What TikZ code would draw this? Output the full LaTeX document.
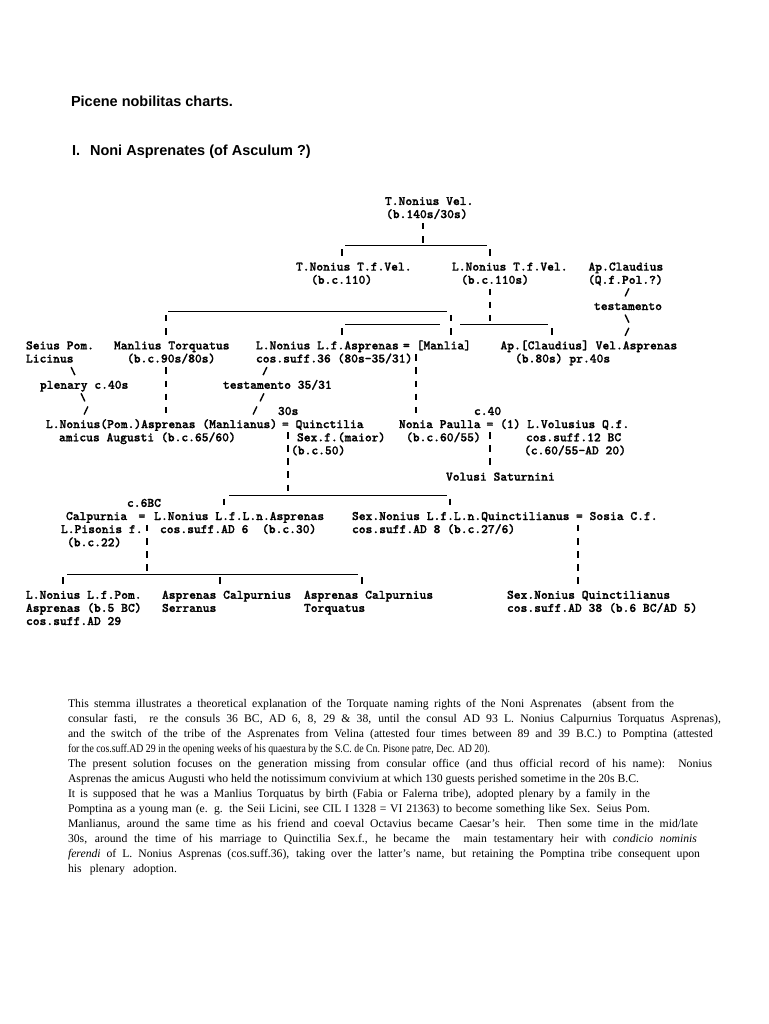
\documentclass[tikz,border=0pt]{standalone}
\usepackage{fontspec}
\usepackage{graphicx}
\setmainfont{Liberation Serif}
\newfontfamily\hsans{Liberation Sans}
\newfontfamily\monob{lmmonolt10-bold}[Extension=.otf, FakeBold=1.2]
\newsavebox\plinebox
\newcommand\fitline[2]{\sbox\plinebox{#2}\ifdim\wd\plinebox>#1\relax\resizebox{#1}{\height}{\usebox\plinebox}\else\makebox[#1][s]{#2}\fi}
\tikzset{
  mono/.style={font=\monob\fontsize{12.95}{13.125}\selectfont, anchor=base west, inner sep=0pt, outer sep=0pt},
  para/.style={font=\fontsize{11.7}{15}\selectfont, anchor=base west, inner sep=0pt, outer sep=0pt},
  head/.style={font=\hsans\bfseries\fontsize{14.5}{17}\selectfont, anchor=base west, inner sep=0pt, outer sep=0pt},
  vbar/.style={line width=1.6pt, dash pattern=on 6.5pt off 6.625pt},
  hbar/.style={line width=0.9pt},
  slashln/.style={line width=1.4pt},
}
\begin{document}
\begin{tikzpicture}[x=1pt,y=-1pt]
\fill[white] (0,0) rectangle (768,1024);
\useasboundingbox (0,0) rectangle (768,1024);

% headings
\node[head] (title) at (71,107) {Picene nobilitas charts.};
\node[head] (sub) at (72,156) {I.\hspace{10pt}Noni Asprenates (of Asculum ?)};

% ---- stemma texts ----
\node[mono] (tnv) at (385,205) {T.Nonius Vel.};
\node[mono] (tnvb) at (386,218.1) {(b.140s/30s)};

\node[mono] (tnt) at (296,270.6) {T.Nonius T.f.Vel.};
\node[mono] (tntb) at (311,283.8) {(b.c.110)};
\node[mono] (lnt) at (452,270.6) {L.Nonius T.f.Vel.};
\node[mono] (lntb) at (461,283.8) {(b.c.110s)};
\node[mono] (apc) at (588.5,270.6) {Ap.Claudius};
\node[mono] (apcb) at (588,283.8) {(Q.f.Pol.?)};
\node[mono] (test1) at (594,310) {testamento};

\node[mono] (sei) at (26,349.4) {Seius Pom.};
\node[mono] (seib) at (26,362.5) {Licinus};
\node[mono] (man) at (114,349.4) {Manlius Torquatus};
\node[mono] (manb) at (127,362.5) {(b.c.90s/80s)};
\node[mono] (lna) at (256,349.4) {L.Nonius L.f.Asprenas};
\node[mono] (lnab) at (256,362.5) {cos.suff.36 (80s-35/31)};
\node[mono] (mnl) at (403,349.4) {= [Manlia]};
\node[mono] (apv) at (500.5,349.4) {Ap.[Claudius] Vel.Asprenas};
\node[mono] (apvb) at (515,362.5) {(b.80s) pr.40s};

\node[mono] (plen) at (40,388.8) {plenary c.40s};
\node[mono] (test2) at (223,388.8) {testamento 35/31};
\node[mono] (t30) at (278,415) {30s};
\node[mono] (c40) at (474,415) {c.40};

\node[mono] (lnp) at (46,428.1) {L.Nonius(Pom.)Asprenas (Manlianus)};
\node[mono] (lnpb) at (59,441.3) {amicus Augusti (b.c.65/60)};
\node[mono] (qui) at (282,428.1) {= Quinctilia};
\node[mono] (quib) at (297,441.3) {Sex.f.(maior)};
\node[mono] (quic) at (291,454.4) {(b.c.50)};
\node[mono] (npa) at (399,428.1) {Nonia Paulla};
\node[mono] (npab) at (406,441.3) {(b.c.60/55)};
\node[mono] (vol) at (486.5,428.1) {= (1) L.Volusius Q.f.};
\node[mono] (volb) at (526,441.3) {cos.suff.12 BC};
\node[mono] (volc) at (524,454.4) {(c.60/55-AD 20)};
\node[mono] (vsat) at (446,480.6) {Volusi Saturnini};

\node[mono] (c6) at (127,506.9) {c.6BC};
\node[mono] (cal) at (66,520) {Calpurnia};
\node[mono] (calb) at (61,533.1) {L.Pisonis f.};
\node[mono] (calc) at (67,546.3) {(b.c.22)};
\node[mono] (lnl) at (138.5,520) {=\hspace{8.9pt}L.Nonius L.f.L.n.Asprenas};
\node[mono] (lnlb) at (160,533.1) {cos.suff.AD 6\ \ (b.c.30)};
\node[mono] (sxn) at (352,520) {Sex.Nonius L.f.L.n.Quinctilianus};
\node[mono] (sxnb) at (352,533.1) {cos.suff.AD 8 (b.c.27/6)};
\node[mono] (sos) at (576,520) {= Sosia C.f.};

\node[mono] (lnf) at (26,598.8) {L.Nonius L.f.Pom.};
\node[mono] (lnfb) at (26,611.9) {Asprenas (b.5 BC)};
\node[mono] (lnfc) at (26,625) {cos.suff.AD 29};
\node[mono] (acs) at (162,598.8) {Asprenas Calpurnius};
\node[mono] (acsb) at (162,611.9) {Serranus};
\node[mono] (act) at (304,598.8) {Asprenas Calpurnius};
\node[mono] (actb) at (304,611.9) {Torquatus};
\node[mono] (sxq) at (507,598.8) {Sex.Nonius Quinctilianus};
\node[mono] (sxqb) at (507,611.9) {cos.suff.AD 38 (b.6 BC/AD 5)};

% ---- vertical connectors (dashed bars) ----
\coordinate (v1a) at (423,223);    \coordinate (v1b) at (423,242.6);
\coordinate (v2a) at (342,249.25); \coordinate (v2b) at (342,255.75);
\coordinate (v3a) at (490,249.25); \coordinate (v3b) at (490,255.75);
\coordinate (v4a) at (490,288.6);  \coordinate (v4b) at (490,321.4);
\coordinate (v5a) at (342,328);    \coordinate (v5b) at (342,334.5);
\coordinate (v6a) at (166,314.9);  \coordinate (v6b) at (166,334.5);
\coordinate (v7a) at (451,314.9);  \coordinate (v7b) at (451,334.5);
\coordinate (v8a) at (552,328);    \coordinate (v8b) at (552,334.5);
\coordinate (v9a) at (166,367.4);  \coordinate (v9b) at (166,413.25);
\coordinate (v10a) at (416,354.25);\coordinate (v10b) at (416,413.25);
\coordinate (v11a) at (288,432);   \coordinate (v11b) at (288,492);
\coordinate (v12a) at (490,432);   \coordinate (v12b) at (490,465.75);
\coordinate (v13a) at (224,498.6); \coordinate (v13b) at (224,505.1);
\coordinate (v14a) at (450,498.6); \coordinate (v14b) at (450,505.1);
\coordinate (v15a) at (147,524.9); \coordinate (v15b) at (147,570.75);
\coordinate (v16a) at (578,524.9); \coordinate (v16b) at (578,583.9);
\coordinate (v17a) at (63,577.4);  \coordinate (v17b) at (63,583.9);
\coordinate (v18a) at (220,577.4); \coordinate (v18b) at (220,583.9);
\coordinate (v19a) at (362,577.4); \coordinate (v19b) at (362,583.9);
\foreach \i in {1,...,19} { \draw[vbar] (v\i a) -- (v\i b); }

% ---- horizontal connectors (underscores) ----
\coordinate (h1a) at (345,245.9); \coordinate (h1b) at (487,245.9);
\coordinate (h2a) at (168,311.5); \coordinate (h2b) at (447,311.5);
\coordinate (h3a) at (345,324.6); \coordinate (h3b) at (440,324.6);
\coordinate (h4a) at (460,324.6); \coordinate (h4b) at (548,324.6);
\coordinate (h5a) at (229,495.3); \coordinate (h5b) at (447,495.3);
\coordinate (h6a) at (67,574);    \coordinate (h6b) at (358,574);
\foreach \i in {1,...,6} { \draw[hbar] (h\i a) -- (h\i b); }

% ---- slashes ----
\foreach \x/\y/\s in {627/292.4/1, 627/318.6/-1, 627/331.8/1,
                      73/371.1/-1, 265/371.1/1, 83/397.4/-1, 262/397.4/1,
                      86/410.5/1, 255/410.5/1} {
  \coordinate (sa) at (\x-1.9*\s,\y+4);
  \coordinate (sb) at (\x+1.9*\s,\y-4);
  \draw[slashln] (sa) -- (sb);
}

% ---- paragraph ----
\node[para] (p1) at (68,707.5) {\fitline{606pt}{This stemma illustrates a theoretical explanation of the Torquate naming rights of the Noni Asprenates\ \ (absent from the}};
\node[para] (p2) at (68,722.5) {\fitline{653pt}{consular fasti,\ \ re the consuls 36 BC, AD 6, 8, 29 \& 38, until the consul AD 93 L. Nonius Calpurnius Torquatus Asprenas),}};
\node[para] (p3) at (68,737.5) {\fitline{645pt}{and the switch of the tribe of the Asprenates from Velina (attested four times between 89 and 39 B.C.) to Pomptina (attested}};
\node[para] (p4) at (68,752.5) {\fitline{422pt}{for the cos.suff.AD 29 in the opening weeks of his quaestura by the S.C. de Cn. Pisone patre, Dec. AD 20).}};
\node[para] (p5) at (68,767.5) {\fitline{644pt}{The present solution focuses on the generation missing from consular office (and thus official record of his name):\ \ Nonius}};
\node[para] (p6) at (68,782.5) {\fitline{571pt}{Asprenas the amicus Augusti who held the notissimum convivium at which 130 guests perished sometime in the 20s B.C.}};
\node[para] (p7) at (68,797.5) {\fitline{582pt}{It is supposed that he was a Manlius Torquatus by birth (Fabia or Falerna tribe), adopted plenary by a family in the}};
\node[para] (p8) at (68,812.5) {\fitline{582pt}{Pomptina as a young man (e. g. the Seii Licini, see CIL I 1328 = VI 21363) to become something like Sex. Seius Pom.}};
\node[para] (p9) at (68,827.5) {\fitline{630pt}{Manlianus, around the same time as his friend and coeval Octavius became Caesar's heir.\ \ Then some time in the mid/late}};
\node[para] (p10) at (68,842.5) {\fitline{629pt}{30s, around the time of his marriage to Quinctilia Sex.f., he became the\ \ main testamentary heir with \textit{condicio nominis}}};
\node[para] (p11) at (68,857.5) {\fitline{632pt}{\textit{ferendi} of L. Nonius Asprenas (cos.suff.36), taking over the latter's name, but retaining the Pomptina tribe consequent upon}};
\node[para] (p12) at (68,872.5) {\fitline{109pt}{his plenary adoption.}};
\end{tikzpicture}
\end{document}
